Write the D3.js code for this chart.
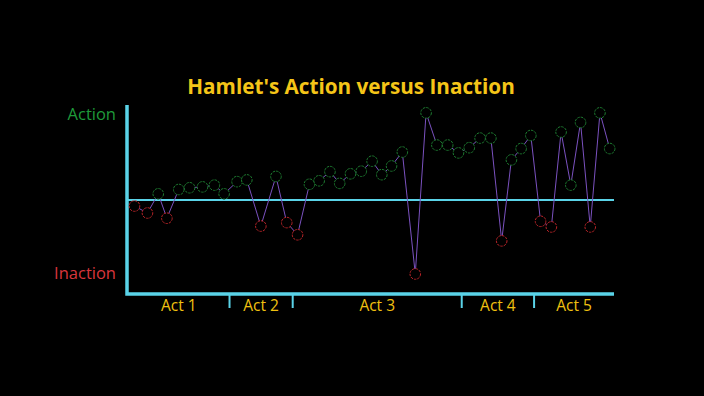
<!DOCTYPE html>
<html>
<head>
<meta charset="utf-8">
<script src="https://cdn.jsdelivr.net/npm/d3@7"></script>
<style>
  html, body { margin: 0; padding: 0; background: #000; }
  svg { display: block; }
  text { font-family: "Open Sans", "Noto Sans", sans-serif; }
</style>
</head>
<body>
<script>
// beat position along the play (x) and action score (y)
const beats = [0.6, 1.8, 2.8, 3.6, 4.7, 5.7, 6.9, 8.0, 8.9,
  10.1, 11.0, 12.3, 13.7, 14.7,
  15.7, 16.8, 17.7, 18.7, 19.6, 20.6, 21.6, 22.6, 23.5, 24.4, 25.4, 26.6, 27.6, 28.6, 29.6, 30.6,
  31.6, 32.6, 33.6, 34.6, 35.5, 36.4, 37.3,
  38.2, 39.2, 40.1, 41.0, 41.9, 42.8, 43.7, 44.6];
const scores = [-0.7, -1.5, 0.7, -2.1, 1.2, 1.4, 1.5, 1.7, 0.7,
  2.1, 2.3, -3.0, 2.7, -2.6,
  -4.0, 1.8, 2.2, 3.25, 1.9, 3.0, 3.3, 4.45, 2.9, 3.9, 5.5, -8.5, 10.0, 6.3, 6.3, 5.4,
  6.0, 7.1, 7.1, -4.7, 4.6, 5.9, 7.4,
  -2.45, -3.1, 7.8, 1.7, 8.9, -3.1, 10.0, 5.9];
const acts = ["Act 1", "Act 2", "Act 3", "Act 4", "Act 5"];
const actBreaks = [9.4, 15.25, 30.9, 37.6]; // where each act ends

const W = 704, H = 396;
const colors = { axis: "#5ad3e8", title: "#f5c518", act: "#f0c010",
  action: "#1f9a3a", inaction: "#d8363c", line: "#7b52c0",
  dotUp: "#1d7a30", dotDown: "#b82428" };

const x = d3.scaleLinear().domain([0, 45]).range([128, 614]);
const y = d3.scaleLinear().domain([-10.8, 10.9]).range([294, 105]);

const svg = d3.select("body").append("svg")
  .attr("width", W).attr("height", H);
svg.append("rect").attr("width", W).attr("height", H).attr("fill", "#000");

svg.append("text")
  .attr("x", 351).attr("y", 94)
  .attr("text-anchor", "middle")
  .attr("fill", colors.title)
  .style("font-size", "20.7px").style("font-weight", 700)
  .text("Hamlet's Action versus Inaction");

// zero line
svg.append("line")
  .attr("x1", x(0)).attr("x2", x(45))
  .attr("y1", y(0)).attr("y2", y(0))
  .attr("stroke", colors.axis).attr("stroke-width", 2);

// axes frame
svg.append("path")
  .attr("d", `M${x(0) - 1},${y(10.9)} V${y(-10.8)} H${x(45)}`)
  .attr("fill", "none")
  .attr("stroke", colors.axis).attr("stroke-width", 3.5);

// act dividers + labels
svg.selectAll("line.act").data(actBreaks).enter().append("line")
  .attr("class", "act")
  .attr("x1", d => x(d)).attr("x2", d => x(d))
  .attr("y1", y(-10.8)).attr("y2", y(-10.8) + 14)
  .attr("stroke", colors.axis).attr("stroke-width", 2);

const edges = [0, ...actBreaks, 45];
svg.selectAll("text.actLabel").data(acts).enter().append("text")
  .attr("class", "actLabel")
  .attr("x", (d, i) => (x(edges[i]) + x(edges[i + 1])) / 2)
  .attr("y", 311)
  .attr("text-anchor", "middle")
  .attr("fill", colors.act)
  .style("font-size", "15.5px")
  .text(d => d);

svg.append("text")
  .attr("x", 116).attr("y", y(9.8)).attr("dy", "0.35em")
  .attr("text-anchor", "end").attr("fill", colors.action)
  .style("font-size", "16.5px").text("Action");
svg.append("text")
  .attr("x", 116).attr("y", y(-8.4)).attr("dy", "0.35em")
  .attr("text-anchor", "end").attr("fill", colors.inaction)
  .style("font-size", "16.5px").text("Inaction");

const data = beats.map((b, i) => ({ b, s: scores[i] }));

svg.append("path").datum(data)
  .attr("fill", "none")
  .attr("stroke", colors.line).attr("stroke-width", 1)
  .attr("d", d3.line().x(d => x(d.b)).y(d => y(d.s)));

svg.selectAll("circle").data(data).enter().append("circle")
  .attr("cx", d => x(d.b)).attr("cy", d => y(d.s))
  .attr("r", 5.3)
  .attr("fill", "#000")
  .attr("stroke", d => d.s > 0 ? colors.dotUp : colors.dotDown)
  .attr("stroke-width", 1)
  .attr("stroke-dasharray", "2.5,1");
</script>
</body>
</html>
